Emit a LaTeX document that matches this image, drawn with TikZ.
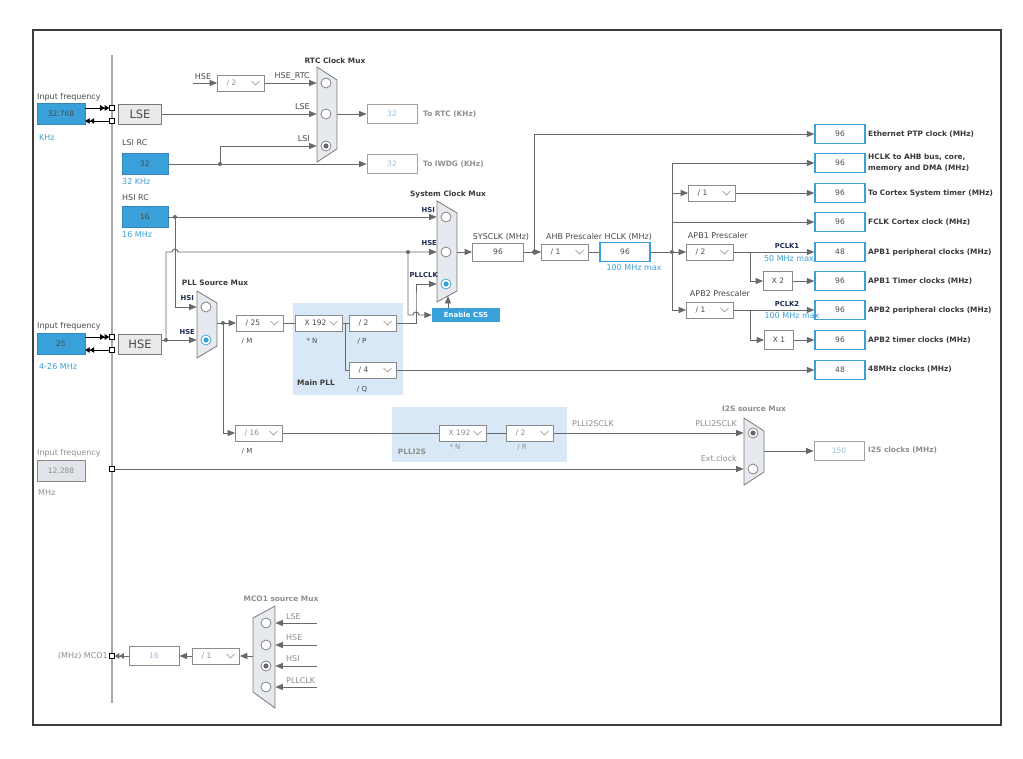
\documentclass[tikz,border=0pt]{standalone}
\usepackage{fontspec}
\setmainfont{DejaVu Sans}
\usepackage{tikz}
\usetikzlibrary{arrows.meta}
\definecolor{framegray}{HTML}{3C3C3C}
\definecolor{bargray}{HTML}{A8A8A8}
\definecolor{wiregray}{HTML}{686868}
\definecolor{txtgray}{HTML}{4A4A4A}
\definecolor{ttlgray}{HTML}{3A3A3A}
\definecolor{dimtext}{HTML}{8E8E8E}
\definecolor{navy}{HTML}{1B2A52}
\definecolor{cubeblue}{HTML}{3AA0DA}
\definecolor{lightval}{HTML}{92BDE2}
\definecolor{boxline}{HTML}{8A8A8A}
\definecolor{dimline}{HTML}{A0A0A0}
\definecolor{muxfill}{HTML}{E6EAEE}
\definecolor{muxline}{HTML}{7A7A7A}
\definecolor{oscfill}{HTML}{E8EAEC}
\definecolor{extfill}{HTML}{E1E4E8}
\definecolor{regionfill}{HTML}{D8E8F6}
\tikzset{
  frame/.style={draw=framegray, line width=1.6pt},
  bar/.style={draw=bargray, line width=1.2pt},
  wire/.style={draw=wiregray, line width=0.9pt},
  feed/.style={wire, -{Triangle[length=7.5pt,width=6pt]}},
  io/.style={draw=black, line width=0.8pt, -{Triangle[length=4.5pt,width=5.5pt]Triangle[length=4.5pt,width=5.5pt]}},
  lab/.style={text=txtgray, font=\fontsize{8}{9}\selectfont, inner sep=0pt},
  sub/.style={lab, font=\fontsize{7}{8}\selectfont},
  unit/.style={lab, text=cubeblue},
  ttl/.style={text=ttlgray, font=\bfseries\fontsize{7.4}{8}\selectfont, inner sep=0pt},
  outl/.style={ttl, anchor=west, align=left, font=\bfseries\fontsize{7.4}{10.5}\selectfont},
  sig/.style={text=navy, font=\bfseries\fontsize{6.8}{8}\selectfont, inner sep=0pt},
  src/.style={draw=cubeblue!85!black, fill=cubeblue, minimum width=48pt, minimum height=21pt, inner sep=0pt, font=\fontsize{7.5}{8}\selectfont, text=txtgray},
  osc/.style={draw=muxline, fill=oscfill, minimum width=43pt, minimum height=20pt, inner sep=0pt, font=\fontsize{11.5}{12}\selectfont, text=txtgray},
  val/.style={draw=cubeblue, line width=1.3pt, fill=white, minimum width=50pt, minimum height=19pt, inner sep=0pt, font=\fontsize{7.5}{8}\selectfont, text=txtgray},
  dimval/.style={val, draw=dimline, line width=0.8pt, text=lightval},
  plain/.style={draw=boxline, line width=0.8pt, fill=white, minimum width=51pt, minimum height=18pt, inner sep=0pt, font=\fontsize{7.5}{8}\selectfont, text=txtgray},
  mulbox/.style={plain, minimum width=29pt, minimum height=19pt},
  drop/.style={draw=boxline, line width=0.8pt, fill=white, minimum height=16pt, text width=29pt, inner xsep=9pt, inner ysep=0pt, align=left, font=\fontsize{7.5}{8}\selectfont, text=txtgray,
    path picture={\draw[boxline, line width=0.6pt] ([xshift=-13pt,yshift=2pt]path picture bounding box.east) -- ++(4pt,-4pt) -- ++(4pt,4pt);}},
  dimdrop/.style={drop, text=dimtext},
  port/.style={draw=black, fill=white, minimum size=5pt, inner sep=0pt, line width=0.6pt},
  dot/.style={circle, fill=wiregray, inner sep=0pt, minimum size=4pt},
  opt/.style={circle, draw=muxline, fill=white, minimum size=10pt, inner sep=0pt, line width=0.7pt},
  optg/.style={opt, path picture={\fill[wiregray] (path picture bounding box.center) circle (2.6pt);}},
  optb/.style={opt, draw=cubeblue, path picture={\fill[cubeblue] (path picture bounding box.center) circle (2.6pt);}},
  muxbody/.style={draw=muxline, fill=muxfill, line width=0.8pt},
  region/.style={fill=regionfill},
  css/.style={fill=cubeblue, text=white, font=\bfseries\fontsize{7}{8}\selectfont, minimum width=68pt, minimum height=14pt, inner sep=0pt}
}

\begin{document}
\begin{tikzpicture}[x=1pt, y=-1pt]
  \fill[white] (0,0) rectangle (1023,759);
  \useasboundingbox (0,0) rectangle (1023,759);
  % frame and divider
  \draw[frame] (33,30) rectangle (1001,725);
  \draw[bar] (112,55) -- (112,703);

  % pll areas
  \fill[region] (293,303) rectangle (403,395);
  \fill[region] (392,407) rectangle (567,462);

  % inputs
  \node[lab, anchor=west] (lseTxt) at (37,97) {Input frequency};
  \node[src] (lseIn) at (61,114) {32.768};
  \node[unit, anchor=west] (lseUnit) at (39,138) {KHz};
  \node[port] (lseP1) at (112,108) {};
  \node[port] (lseP2) at (112,121) {};
  \node[osc] (lse) at (140,114) {LSE};

  \node[lab, anchor=west] (lsiTxt) at (122,143) {LSI RC};
  \node[src, minimum width=46pt] (lsi) at (145,164) {32};
  \node[unit, anchor=west] (lsiUnit) at (122,182) {32 KHz};

  \node[lab, anchor=west] (hsiTxt) at (122,198) {HSI RC};
  \node[src, minimum width=46pt] (hsi) at (145,217) {16};
  \node[unit, anchor=west] (hsiUnit) at (122,235) {16 MHz};

  \node[lab, anchor=west] (hseTxt) at (37,326) {Input frequency};
  \node[src] (hseIn) at (61,344) {25};
  \node[unit, anchor=west] (hseUnit) at (39,367) {4-26 MHz};
  \node[port] (hseP1) at (112,337) {};
  \node[port] (hseP2) at (112,350) {};
  \node[osc] (hse) at (140,344) {HSE};

  \node[lab, text=dimtext, anchor=west] (extTxt) at (37,453) {Input frequency};
  \node[src, fill=extfill, draw=boxline, text=dimtext] (extIn) at (61,471) {12.288};
  \node[lab, text=dimtext, anchor=west] (extUnit) at (38,493) {MHz};
  \node[port] (extP) at (112,469) {};

  \draw[io] (lseIn.east |- lseP1) -- (lseP1.west);
  \draw[io] (lseP2.west) -- (lseIn.east |- lseP2);
  \draw[io] (hseIn.east |- hseP1) -- (hseP1.west);
  \draw[io] (hseP2.west) -- (hseIn.east |- hseP2);

  % rtc mux
  \node[ttl] (rtcTtl) at (335,61) {RTC Clock Mux};
  \draw[muxbody] (317,67) -- (337,80) -- (337,149) -- (317,162) -- cycle;
  \node[opt] (rtcA) at (326,83) {};
  \node[opt] (rtcB) at (326,114) {};
  \node[optg] (rtcC) at (326,146) {};
  \coordinate (rtcO) at (337,114);
  \node[lab] (rtcHseTxt) at (203,77) {HSE};
  \coordinate (rtcHse) at (193,83);
  \node[dimdrop] (rtcDiv) at (241,83) {/ 2};
  \node[lab, anchor=east] (rtcL1) at (310,76) {HSE\_RTC};
  \node[lab, anchor=east] (rtcL2) at (310,107) {LSE};
  \node[lab, anchor=east] (rtcL3) at (310,139) {LSI};
  \node[dimval] (rtcBox) at (392,114) {32};
  \node[outl, text=dimtext] (rtcLbl) at (423,114) {To RTC (KHz)};
  \node[dimval] (iwdg) at (392,164) {32};
  \node[outl, text=dimtext] (iwdgLbl) at (423,164) {To IWDG (KHz)};
  \node[dot] (lsiDot) at (220,164) {};

  \draw[feed, shorten >=4pt] (lse) -- (rtcB);
  \draw[feed] (rtcHse) -- (rtcDiv);
  \draw[feed, shorten >=4pt] (rtcDiv) -- (rtcA);
  \draw[feed] (rtcO) -- (rtcBox);
  \draw[feed] (lsi) -- (iwdg);
  \draw[feed, shorten >=4pt] (lsiDot) |- (rtcC);

  % system clock mux
  \node[ttl] (sysTtl) at (448,194) {System Clock Mux};
  \draw[muxbody] (437,201) -- (457,213) -- (457,291) -- (437,302) -- cycle;
  \node[opt] (sysA) at (446,217) {};
  \node[opt] (sysB) at (446,252) {};
  \node[optb] (sysC) at (446,284) {};
  \coordinate (sysO) at (457,252);
  \coordinate (sysBot) at (448,296);
  \node[sig, anchor=east] (sysL1) at (435,210) {HSI};
  \node[sig, anchor=east] (sysL2) at (437,243) {HSE};
  \node[sig, anchor=east] (sysL3) at (438,275) {PLLCLK};

  % pll source mux
  \node[ttl] (pllTtl) at (215,283) {PLL Source Mux};
  \draw[muxbody] (197,291) -- (217,303) -- (217,346) -- (197,358) -- cycle;
  \node[opt] (pllA) at (206,307) {};
  \node[optb] (pllB) at (206,340) {};
  \coordinate (pllO) at (217,323);
  \node[sig, anchor=east] (pllL1) at (194,298) {HSI};
  \node[sig, anchor=east] (pllL2) at (195,332) {HSE};

  \node[dot] (hsiDot) at (175,217) {};
  \node[dot] (hseDot) at (166,340) {};
  \draw[feed, shorten >=4pt] (hsi) -- (sysA);
  \draw[feed, shorten >=4pt] (hsiDot) |- (pllA);
  \draw[feed, shorten >=4pt] (hse.east |- pllB) -- (pllB);
  \draw[feed, shorten >=4pt] (hseDot) |- ([xshift=-3pt]hsiDot |- sysB) arc[start angle=180, end angle=0, radius=3pt] -- (sysB);

  % main pll
  \node[dot] (pllDot) at (223,323) {};
  \node[drop] (divM) at (260,323) {/ 25};
  \node[sub] (divMTxt) at (247,341) {/ M};
  \node[drop] (mulN) at (319,323) {X 192};
  \node[sub] (mulNTxt) at (312,341) {* N};
  \node[drop] (divP) at (373,323) {/ 2};
  \node[sub] (divPTxt) at (362,341) {/ P};
  \node[drop] (divQ) at (373,370) {/ 4};
  \node[sub] (divQTxt) at (362,389) {/ Q};
  \node[ttl] (pllName) at (316,383) {Main PLL};
  \coordinate (nTap) at (345,323);

  \draw[feed] (pllO) -- (divM);
  \draw[wire] (divM) -- (mulN);
  \draw[wire] (mulN) -- (divP);
  \draw[wire] (nTap) |- (divQ);

  % css
  \node[css] (css) at (466,315) {Enable CSS};
  \coordinate (pllUp) at (416,300);
  \node[dot] (cssTap) at (408,252) {};
  \draw[feed, shorten >=4pt] (divP.east) -| (pllUp) |- (sysC);
  \draw[feed] (cssTap) |- ([xshift=-3pt]pllUp |- css.west) arc[start angle=180, end angle=0, radius=3pt] -- (css.west);
  \draw[feed] (css.north -| sysBot) -- (sysBot);

  % sysclk and ahb
  \node[lab] (sysclkTxt) at (501,237) {SYSCLK (MHz)};
  \node[plain] (sysclk) at (498,252) {96};
  \node[dot] (sysDot) at (534,252) {};
  \node[drop] (ahb) at (565,252) {/ 1};
  \node[lab] (ahbTxt) at (599,237) {AHB Prescaler HCLK (MHz)};
  \node[val] (hclk) at (625,252) {96};
  \node[unit] (hclkMax) at (634,268) {100 MHz max};
  \node[dot] (hclkDot) at (672,252) {};

  \draw[feed] (sysO) -- (sysclk);
  \draw[feed] (sysclk) -- (ahb);
  \draw[wire] (ahb) -- (hclk);
  \draw[wire] (hclk) -- (hclkDot);

  % outputs
  \node[val] (eth) at (840,134) {96};
  \node[outl] (ethLbl) at (868,134) {Ethernet PTP clock (MHz)};
  \node[val] (hbus) at (840,163) {96};
  \node[outl] (hbusLbl) at (868,163) {HCLK to AHB bus, core,\\memory and DMA (MHz)};
  \node[drop] (cortexDiv) at (712,193) {/ 1};
  \node[val] (cortex) at (840,193) {96};
  \node[outl] (cortexLbl) at (868,193) {To Cortex System timer (MHz)};
  \node[val] (fclk) at (840,222) {96};
  \node[outl] (fclkLbl) at (868,222) {FCLK Cortex clock (MHz)};

  \node[lab] (apb1Txt) at (718,236) {APB1 Prescaler};
  \node[drop] (apb1Div) at (710,252) {/ 2};
  \node[val] (apb1P) at (840,252) {48};
  \node[outl] (apb1PLbl) at (868,252) {APB1 peripheral clocks (MHz)};
  \node[sig] (pclk1) at (787,246) {PCLK1};
  \node[unit] (apb1Max) at (789,259) {50 MHz max};
  \coordinate (apb1Tap) at (750,252);
  \node[mulbox] (x2) at (778,281) {X 2};
  \node[val] (apb1T) at (840,281) {96};
  \node[outl] (apb1TLbl) at (868,281) {APB1 Timer clocks (MHz)};

  \node[lab] (apb2Txt) at (720,294) {APB2 Prescaler};
  \node[drop] (apb2Div) at (710,310) {/ 1};
  \node[val] (apb2P) at (840,310) {96};
  \node[outl] (apb2PLbl) at (868,310) {APB2 peripheral clocks (MHz)};
  \node[sig] (pclk2) at (787,304) {PCLK2};
  \node[unit] (apb2Max) at (792,316) {100 MHz max};
  \coordinate (apb2Tap) at (750,310);
  \node[mulbox] (x1) at (779,340) {X 1};
  \node[val] (apb2T) at (840,340) {96};
  \node[outl] (apb2TLbl) at (868,340) {APB2 timer clocks (MHz)};

  \node[val] (usb) at (840,370) {48};
  \node[outl] (usbLbl) at (868,369) {48MHz clocks (MHz)};

  \draw[feed] (sysDot) |- (eth);
  \draw[feed] (hclkDot) |- (hbus);
  \draw[feed] (hclkDot) |- (cortexDiv);
  \draw[feed] (cortexDiv) -- (cortex);
  \draw[feed] (hclkDot) |- (fclk);
  \draw[feed] (hclkDot) -- (apb1Div);
  \draw[feed] (hclkDot) |- (apb2Div);
  \draw[feed] (apb1Div) -- (apb1P);
  \draw[feed] (apb1Tap) |- (x2);
  \draw[feed] (x2) -- (apb1T);
  \draw[feed] (apb2Div) -- (apb2P);
  \draw[feed] (apb2Tap) |- (x1);
  \draw[feed] (x1) -- (apb2T);
  \draw[feed] (divQ) -- (usb);

  % plli2s
  \node[dimdrop] (i2sM) at (259,433) {/ 16};
  \node[sub] (i2sMTxt) at (247,451) {/ M};
  \node[dimdrop] (i2sN) at (463,433) {X 192};
  \node[sub, text=dimtext] (i2sNTxt) at (455,447) {* N};
  \node[dimdrop] (i2sR) at (530,433) {/ 2};
  \node[sub, text=dimtext] (i2sRTxt) at (522,447) {/ R};
  \node[ttl, text=dimtext] (i2sName) at (412,452) {PLLI2S};
  \node[lab, text=dimtext, anchor=west] (i2sClk1) at (572,424) {PLLI2SCLK};

  \draw[feed] (pllDot) |- (i2sM);
  \draw[wire] (i2sM) -- (i2sN);
  \draw[wire] (i2sN) -- (i2sR);

  % i2s mux
  \node[ttl, text=dimtext] (i2sTtl) at (754,409) {I2S source Mux};
  \draw[muxbody] (744,418) -- (764,431) -- (764,472) -- (744,485) -- cycle;
  \node[optg] (i2sA) at (753,433) {};
  \node[opt] (i2sB) at (753,469) {};
  \coordinate (i2sO) at (764,451);
  \node[lab, text=dimtext, anchor=east] (i2sClk2) at (737,424) {PLLI2SCLK};
  \node[lab, text=dimtext, anchor=east] (extClk) at (737,459) {Ext.clock};
  \node[dimval] (i2sBox) at (839,451) {150};
  \node[outl, text=dimtext] (i2sLbl) at (868,450) {I2S clocks (MHz)};

  \draw[feed, shorten >=4pt] (i2sR) -- (i2sA);
  \draw[feed, shorten >=4pt] (extP) -- (i2sB);
  \draw[feed] (i2sO) -- (i2sBox);

  % mco1
  \node[ttl, text=dimtext] (mcoTtl) at (281,599) {MCO1 source Mux};
  \draw[muxbody] (253,618) -- (275,606) -- (275,708) -- (253,692) -- cycle;
  \node[opt] (mcoA) at (266,623) {};
  \node[opt] (mcoB) at (266,645) {};
  \node[optg] (mcoC) at (266,666) {};
  \node[opt] (mcoD) at (266,687) {};
  \coordinate (mcoInA) at (317,623);
  \coordinate (mcoInB) at (317,645);
  \coordinate (mcoInC) at (317,666);
  \coordinate (mcoInD) at (317,687);
  \node[lab, text=dimtext, anchor=west] (mcoL1) at (286,617) {LSE};
  \node[lab, text=dimtext, anchor=west] (mcoL2) at (286,638) {HSE};
  \node[lab, text=dimtext, anchor=west] (mcoL3) at (286,659) {HSI};
  \node[lab, text=dimtext, anchor=west] (mcoL4) at (286,681) {PLLCLK};
  \coordinate (mcoO) at (253,656);
  \node[dimdrop] (mcoDiv) at (216,656) {/ 1};
  \node[dimval, draw=boxline] (mcoBox) at (154,656) {16};
  \node[port] (mcoP) at (112,656) {};
  \node[lab, text=dimtext, anchor=east] (mcoTxt) at (108,656) {(MHz) MCO1};

  \draw[feed, shorten >=4pt] (mcoInA) -- (mcoA);
  \draw[feed, shorten >=4pt] (mcoInB) -- (mcoB);
  \draw[feed, shorten >=4pt] (mcoInC) -- (mcoC);
  \draw[feed, shorten >=4pt] (mcoInD) -- (mcoD);
  \draw[feed] (mcoO) -- (mcoDiv);
  \draw[feed] (mcoDiv) -- (mcoBox);
  \draw[io, draw=wiregray] (mcoBox) -- (mcoP);
\end{tikzpicture}
\end{document}
